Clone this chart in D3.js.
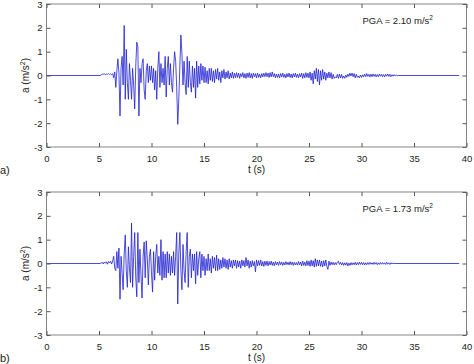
<!DOCTYPE html>
<html lang="en">
<head>
<meta charset="UTF-8">
<script src="https://cdn.jsdelivr.net/npm/d3@7"></script>
<style>
  body { margin: 0; background: #fff; }
  svg text { font-family: "Liberation Sans", Arial, sans-serif; fill: #222; }
</style>
</head>
<body>
<svg id="chart" width="474" height="364"></svg>
<script>
// axis ticks
const xTicks = [0, 5, 10, 15, 20, 25, 30, 35, 40];
const yTicks = [-3, -2, -1, 0, 1, 2, 3];

// record sampling (read at 0.1 s from 5.0 s), flat zero before and after
const t0 = 5.0, dt = 0.1, tEnd = 39.3;

// a) accelerogram, m/s^2
const accA = [
  0, 0, 0.02, 0.06, 0.05, 0.07, 0.04, 0.06, 0.05, 0.08,
  0.04, 0.07, 0.03, 0.08, -0.1, 0.15, -0.5, 0.2, 0.7, 0.1,
  -1.7, 0.3, 0.8, -0.4, 2.1, -1.0, 1.1, -0.3, -1.0, 0.5,
  -0.2, -1.0, 0.3, -0.4, -1.4, 0.4, 1.4, 1.2, -1.7, 0.3,
  -0.3, 0.5, 0.7, -0.6, -1.0, 0.2, 0.5, -0.3, 0.4, -0.2,
  0.4, -0.3, 0.3, -0.6, 0.2, -1.0, 0.3, 1.0, -0.5, 0.5,
  -0.3, 0.3, -0.4, 0.8, -0.9, 0.3, 0.8, -0.4, 0.5, -0.3,
  -0.7, 0.3, 1.0, 0.6, -0.5, -2.05, -1.0, 0.4, 1.7, 0.9,
  -0.4, 0.6, -0.3, -0.8, 0.8, -0.5, 0.6, -0.3, -0.7, 0.4,
  -0.5, 0.3, -0.95, 0.6, -0.5, 0.4, -0.35, 0.5, -0.2, 0.4,
  -0.3, 0.35, -0.3, 0.2, -0.35, 0.3, -0.2, 0.3, -0.25, 0.2,
  -0.3, 0.25, -0.15, 0.3, -0.2, 0.15, -0.3, 0.2, -0.1, 0.25,
  -0.15, 0.15, -0.1, 0.2, -0.15, 0.1, -0.1, 0.15, -0.12, 0.1,
  -0.1, 0.12, -0.08, 0.1, -0.12, 0.08, -0.05, 0.12, -0.1, 0.08,
  -0.12, 0.1, -0.08, 0.12, -0.1, 0.08, -0.12, 0.1, -0.05, 0.08,
  -0.1, 0.1, -0.08, 0.06, -0.1, 0.08, -0.06, 0.1, -0.05, 0.12,
  -0.05, 0.1, -0.08, 0.12, -0.06, 0.15, -0.05, 0.08, -0.1, 0.06,
  -0.08, 0.06, -0.1, 0.08, -0.06, 0.1, -0.08, 0.05, -0.1, 0.08,
  -0.06, 0.1, -0.08, 0.06, -0.1, 0.08, -0.06, 0.1, -0.08, 0.06,
  -0.1, 0.08, -0.06, 0.1, -0.12, 0.08, -0.1, 0.12, -0.08, 0.1,
  -0.1, 0.15, -0.2, 0.1, -0.35, 0.2, -0.15, 0.3, -0.25, 0.25,
  -0.4, 0.2, -0.2, 0.25, -0.15, 0.15, -0.2, 0.1, -0.1, 0.15,
  -0.1, 0.12, -0.15, 0.05, -0.12, -0.05, -0.1, 0.05, -0.12, 0.06,
  -0.1, 0.05, -0.12, -0.02, -0.12, 0.02, -0.08, 0.06, -0.04, 0.1,
  -0.02, 0.1, -0.05, 0.08, -0.1, 0.05, -0.08, -0.02, -0.1, 0.02,
  -0.08, 0.03, -0.06, 0.06, -0.05, 0.08, -0.04, 0.05, -0.06, 0.06,
  -0.05, 0.06, -0.04, 0.05, -0.06, 0.04, -0.05, 0.06, -0.03, 0.05,
  -0.05, 0.04, -0.06, 0.05, -0.03, 0.06, -0.04, 0.05, -0.05, 0.03,
  -0.03, 0.04, -0.02, 0.02, -0.01, 0
];

// b) accelerogram, m/s^2
const accB = [
  0, 0, 0.02, 0.05, -0.02, 0.06, 0.01, 0.07, -0.03, 0.08,
  0.02, 0.1, -0.02, 0.1, 0.3, -0.2, -0.3, 0.5, -0.2, 0.65,
  -1.5, 0.3, -0.4, -1.1, 0.4, 1.2, -0.3, -1.0, 0.7, -0.2,
  -0.8, 1.7, -1.0, 0.3, 1.3, -0.6, -1.4, 1.3, -0.8, 0.6,
  -0.5, -1.45, 0.3, 0.9, -0.6, 0.95, 0.2, -0.9, 0.3, 0.6,
  -0.4, -1.2, 0.5, -0.7, 0.3, 0.8, -0.4, 0.3, -0.5, 1.0,
  -0.7, 0.5, -0.6, 0.4, -0.6, 0.5, -0.4, 0.4, -0.5, 0.3,
  -0.4, 0.5, -0.5, 0.3, 1.3, -1.7, 0.4, 1.3, -0.3, -1.1,
  0.8, -0.3, -0.8, 0.5, 1.3, -1.0, 0.3, 0.6, -0.6, 0.4,
  -0.3, 0.4, -0.85, 0.5, -0.5, 0.2, 0.5, -0.6, 0.4, -0.3,
  0.3, -0.5, 0.2, -0.3, 0.4, -0.3, 0.2, -0.4, 0.3, -0.2,
  0.25, -0.3, 0.35, -0.3, 0.2, -0.25, 0.15, -0.2, 0.25, -0.15,
  0.2, -0.2, 0.15, -0.25, 0.2, -0.15, 0.12, -0.2, 0.15, -0.1,
  0.15, -0.2, 0.12, -0.15, 0.1, -0.2, 0.15, -0.1, 0.12, -0.15,
  0.25, -0.1, 0.15, -0.2, 0.1, -0.15, 0.12, -0.1, 0.08, -0.35,
  0.15, -0.1, 0.12, -0.08, 0.15, -0.1, 0.08, -0.12, 0.1, -0.08,
  0.1, -0.1, 0.08, -0.06, 0.1, -0.08, 0.06, -0.1, 0.08, -0.06,
  0.06, -0.08, 0.08, -0.05, 0.06, -0.08, 0.05, -0.06, 0.08, -0.05,
  0.05, -0.06, 0.08, -0.05, 0.06, -0.08, 0.05, -0.06, 0.04, -0.07,
  0.08, -0.06, 0.06, -0.1, 0.1, -0.08, 0.06, -0.1, 0.12, -0.08,
  0.1, -0.12, 0.15, -0.1, 0.12, -0.15, 0.2, -0.12, 0.15, -0.1,
  0.15, -0.12, 0.1, -0.15, 0.12, -0.1, 0.15, -0.12, -0.25, 0.1,
  -0.08, 0.06, -0.05, 0.05, -0.06, 0.04, -0.05, 0.06, 0.1, -0.04,
  0.05, -0.06, 0.04, -0.08, 0.03, -0.07, 0.04, -0.1, 0.02, -0.08,
  0.04, -0.06, 0.03, -0.05, 0.05, -0.06, 0.04, -0.05, 0.06, -0.04,
  0.05, -0.05, 0.04, -0.06, 0.03, -0.05, 0.04, -0.04, 0.05, -0.03,
  0.03, -0.04, 0.05, -0.03, 0.04, -0.05, 0.03, -0.04, 0.04, -0.03,
  0.04, -0.03, 0.03, -0.04, 0.05, -0.03, 0.03, -0.04, 0.03, -0.02,
  0.02, 0
];

const panels = [
  { tag: "a)", pga: "2.10", acc: accA, top: 4 },
  { tag: "b)", pga: "1.73", acc: accB, top: 192 }
];

const left = 46.5, width = 420, height = 143;
const svg = d3.select("#chart");
const plainNum = d => String(d);   // matlab style: "-3", "0", "40"

function drawPanel(p) {
  const g = svg.append("g").attr("transform", "translate(" + left + "," + p.top + ")");

  const x = d3.scaleLinear().domain([0, 40]).range([0, width]);
  const y = d3.scaleLinear().domain([-3, 3]).range([height, 0]);

  const pts = [[0, 0]].concat(p.acc.map((v, i) => [t0 + i * dt, v]), [[tEnd, 0]]);

  g.append("path")
    .datum(pts)
    .attr("fill", "none")
    .attr("stroke", "#1e1ed2")
    .attr("stroke-width", 0.8)
    .attr("d", d3.line().x(d => x(d[0])).y(d => y(d[1])));

  // ticks inside on all four sides
  const bottom = g.append("g").attr("transform", "translate(0," + height + ")")
    .call(d3.axisBottom(x).tickValues(xTicks).tickSizeInner(-4).tickSizeOuter(0)
      .tickPadding(8).tickFormat(plainNum));
  const topAx = g.append("g")
    .call(d3.axisTop(x).tickValues(xTicks).tickSizeInner(-4).tickSizeOuter(0).tickFormat(""));
  const leftAx = g.append("g")
    .call(d3.axisLeft(y).tickValues(yTicks).tickSizeInner(-4).tickSizeOuter(0)
      .tickPadding(4).tickFormat(plainNum));
  const rightAx = g.append("g").attr("transform", "translate(" + width + ",0)")
    .call(d3.axisRight(y).tickValues(yTicks).tickSizeInner(-4).tickSizeOuter(0).tickFormat(""));

  [bottom, topAx, leftAx, rightAx].forEach(a => {
    a.select(".domain").remove();
    a.selectAll("line").attr("stroke", "#555");
    a.selectAll("text").attr("font-size", 9.5).attr("fill", "#222")
      .attr("font-family", "'Liberation Sans', Arial, sans-serif");
  });

  g.append("rect")
    .attr("width", width).attr("height", height)
    .attr("fill", "none").attr("stroke", "#666").attr("stroke-width", 0.8);

  // pga note
  const note = g.append("text").attr("x", 316).attr("y", 20).attr("font-size", 9.5);
  note.append("tspan").text("PGA = " + p.pga + " m/s");
  note.append("tspan").attr("font-size", 6.5).attr("dy", -4).text("2");

  // axis labels
  g.append("text")
    .attr("x", width / 2).attr("y", height + 26)
    .attr("text-anchor", "middle").attr("font-size", 10)
    .text("t (s)");

  const yl = g.append("text")
    .attr("transform", "translate(-18," + (height / 2) + ") rotate(-90)")
    .attr("text-anchor", "middle").attr("font-size", 10);
  yl.append("tspan").text("a (m/s");
  yl.append("tspan").attr("font-size", 7).attr("dy", -4).text("2");
  yl.append("tspan").attr("dy", 4).text(")");

  g.append("text")
    .attr("x", -left).attr("y", height + 27)
    .attr("font-family", "'Liberation Serif', 'Times New Roman', serif")
    .attr("font-size", 11)
    .text(p.tag);
}

panels.forEach(drawPanel);
</script>
</body>
</html>
